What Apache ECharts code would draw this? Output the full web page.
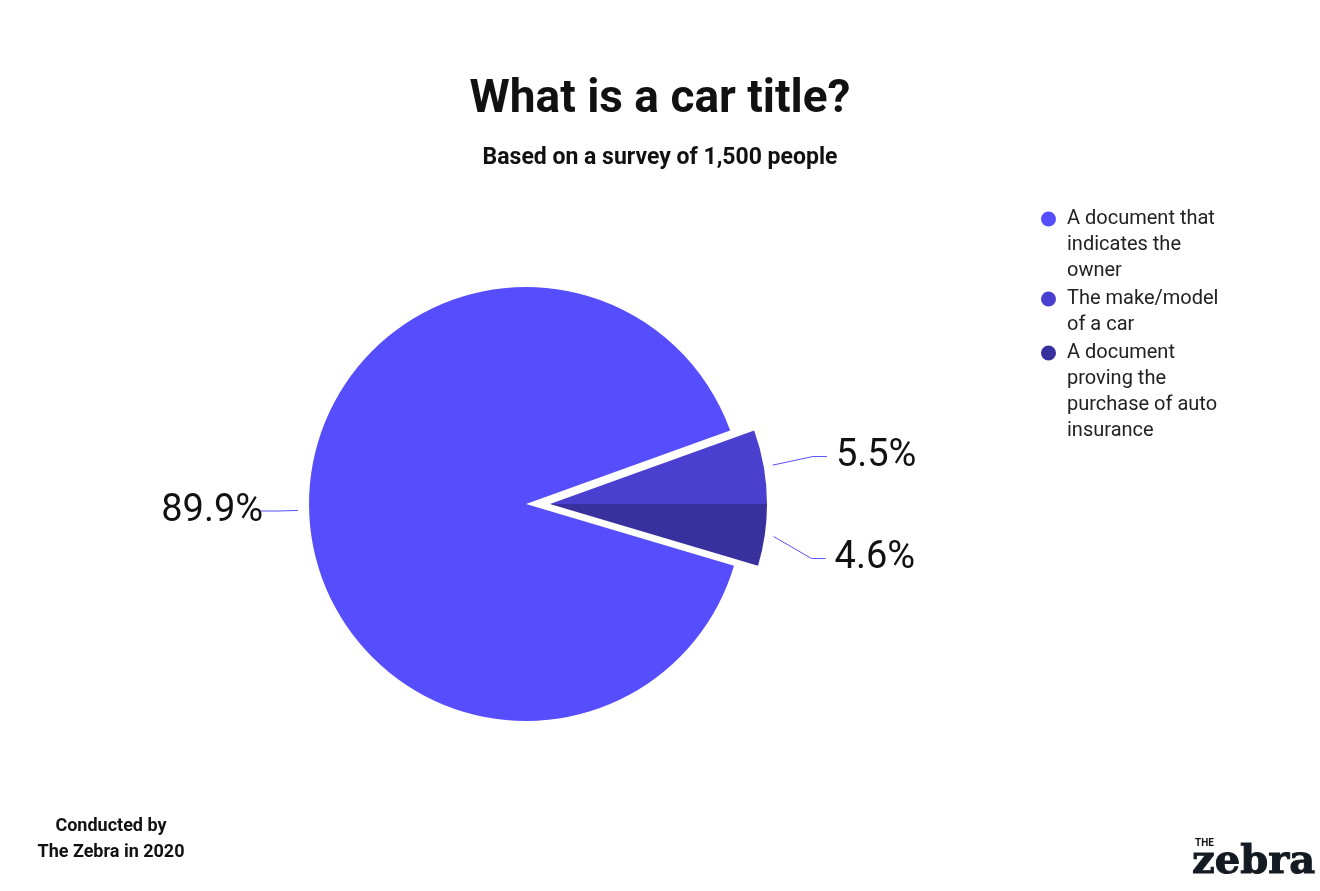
<!DOCTYPE html>
<html>
<head>
<meta charset="utf-8">
<script src="https://cdn.jsdelivr.net/npm/echarts@6/dist/echarts.min.js"></script>
<style>
    html, body { margin: 0; padding: 0; background: #fff; }
    #chart { width: 1320px; height: 891px; }
</style>
</head>
<body>
<div id="chart"></div>
<script>
    // 数据
    var categories = ['A document that indicates the owner', 'The make/model of a car', 'A document proving the purchase of auto insurance'];
    var legendLabels = ['A document that\nindicates the\nowner', 'The make/model\nof a car', 'A document\nproving the\npurchase of auto\ninsurance'];
    var shares = [89.9, 5.5, 4.6];
    var pulled = [false, true, true];
    var colors = ['#564dfc', '#4a40cf', '#37309d'];

    var chart = echarts.init(document.getElementById('chart'));

    var total = shares.reduce(function (a, b) { return a + b; }, 0);
    // 让第2、3块的分界线水平
    var startAngle = 360 * (shares[0] + shares[1]) / total;
    var none = 'rgba(0,0,0,0)';
    var mainCenter = [526, 504];
    var pullCenter = [550, 504];

    function sliceData(showPulled) {
        return categories.map(function (name, i) {
            return {
                name: name,
                value: shares[i],
                itemStyle: { color: pulled[i] === showPulled ? colors[i] : none }
            };
        });
    }
    function labelData(showPulled) {
        return categories.map(function (name, i) {
            var on = pulled[i] === showPulled;
            return {
                name: name,
                value: shares[i],
                itemStyle: { color: none },
                label: { show: on },
                labelLine: { show: on }
            };
        });
    }

    var labelStyle = {
        position: 'outside',
        color: '#111',
        fontSize: 38,
        fontWeight: 'normal',
        fontFamily: 'Roboto',
        formatter: function (p) { return p.value + '%'; }
    };

    // 图例：圆点画在第一行前面
    var legendRich = {
        t: { fontSize: 20, lineHeight: 26, fontFamily: 'Roboto', color: '#222', padding: [0, 0, 0, 11] },
        g: { width: 15, height: 15 }
    };
    colors.forEach(function (c, i) {
        legendRich['d' + i] = { width: 15, height: 15, borderRadius: 8, backgroundColor: c };
    });

    var option = {
        backgroundColor: '#fff',
        animation: false,
        color: colors,
        title: [{
            text: 'What is a car title?',
            left: 'center',
            top: 72,
            textStyle: { fontSize: 46, fontWeight: 'bold', fontFamily: 'Roboto', color: '#111' }
        }, {
            text: 'Based on a survey of 1,500 people',
            left: 'center',
            top: 142,
            textStyle: { fontSize: 23, fontWeight: 'bold', fontFamily: 'Roboto', color: '#111' }
        }],
        legend: {
            orient: 'vertical',
            left: 1036,
            top: 206,
            padding: 0,
            itemGap: 2,
            itemWidth: 0,
            itemHeight: 0,
            itemTextGap: 0,
            icon: 'none',
            selectedMode: false,
            data: categories,
            formatter: function (name) {
                var i = categories.indexOf(name);
                return legendLabels[i].split('\n').map(function (line, j) {
                    return (j === 0 ? '{d' + i + '|}' : '{g|}') + '{t|' + line + '}';
                }).join('\n');
            },
            textStyle: { fontSize: 20, lineHeight: 26, fontFamily: 'Roboto', color: '#222', rich: legendRich }
        },
        graphic: [{
            type: 'text',
            x: 111, y: 839,
            style: {
                text: 'Conducted by\nThe Zebra in 2020',
                align: 'center', verticalAlign: 'middle',
                font: 'bold 18px Roboto', lineHeight: 26, fill: '#111'
            }
        }, {
            type: 'text',
            x: 1195, y: 843,
            style: { text: 'THE', align: 'left', verticalAlign: 'middle', font: 'bold 10px Roboto', fill: '#111' }
        }, {
            type: 'text',
            x: 1192, y: 883,
            style: { text: 'zebra', align: 'left', verticalAlign: 'bottom', font: '900 40px "DejaVu Serif"', fill: '#141a22', stroke: '#141a22', lineWidth: 1 }
        }],
        series: [{
            name: 'main',
            type: 'pie',
            silent: true,
            center: mainCenter,
            radius: 217,
            startAngle: startAngle,
            label: { show: false },
            labelLine: { show: false },
            data: sliceData(false)
        }, {
            name: 'pulled',
            type: 'pie',
            silent: true,
            center: pullCenter,
            radius: 217,
            startAngle: startAngle,
            label: { show: false },
            labelLine: { show: false },
            data: sliceData(true)
        }, {
            name: 'mainLabel',
            type: 'pie',
            silent: true,
            center: mainCenter,
            radius: 228,
            startAngle: startAngle,
            avoidLabelOverlap: false,
            label: Object.assign({ distanceToLabelLine: -3 }, labelStyle),
            labelLine: { length: 20, length2: 18, lineStyle: { color: '#5a50fb', width: 1 } },
            data: labelData(false)
        }, {
            name: 'pulledLabel',
            type: 'pie',
            silent: true,
            center: pullCenter,
            radius: 226,
            startAngle: startAngle,
            // 两个小标签互相推开，引导线变成斜线
            avoidLabelOverlap: true,
            label: Object.assign({ distanceToLabelLine: 9, minMargin: 64 }, labelStyle),
            labelLine: { length: 50, length2: 14, lineStyle: { color: '#5a50fb', width: 1 } },
            data: labelData(true)
        }]
    };

    chart.setOption(option);
</script>
</body>
</html>
